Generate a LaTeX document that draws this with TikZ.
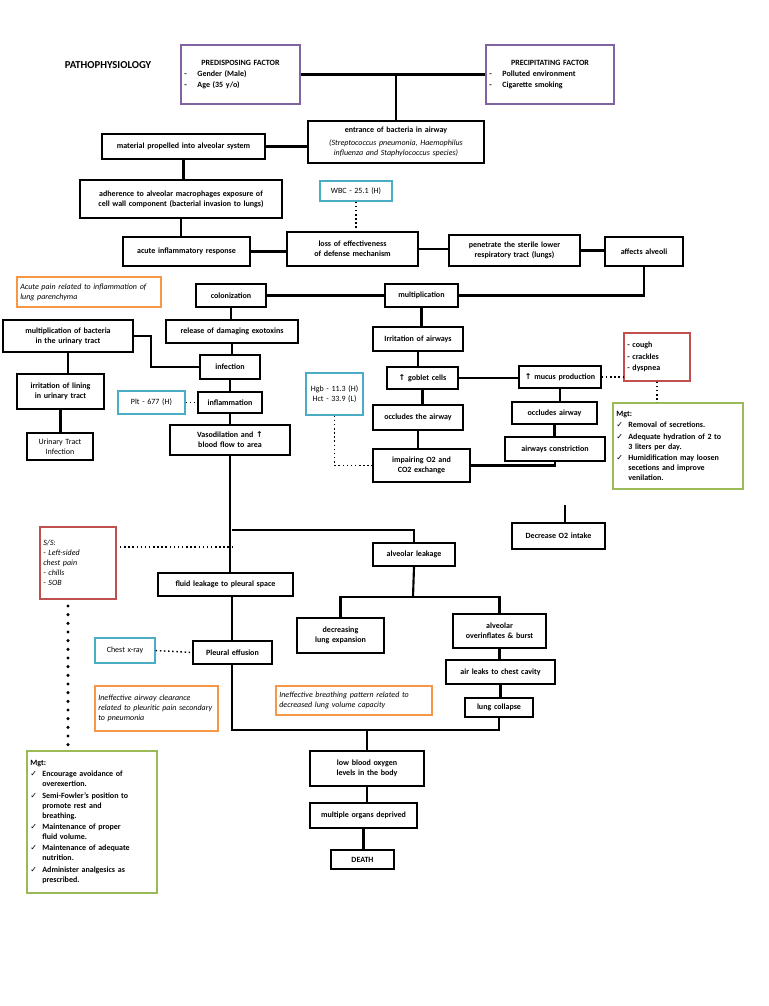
\documentclass[tikz,border=0pt]{standalone}
\usepackage{fontspec}
\setmainfont{Carlito}
\newfontfamily\djvf{DejaVu Sans}
\newcommand\uparr{{\djvf\char"2191}}
\newcommand\chkm{{\djvf\char"2713}}
\definecolor{purp}{RGB}{128,100,162}
\definecolor{blu}{RGB}{75,172,198}
\definecolor{org}{RGB}{247,150,70}
\definecolor{rd}{RGB}{192,80,77}
\definecolor{grn}{RGB}{155,187,89}
\newcommand\mybox[7][]{%
  \node[bx,#1,minimum width={(#5-#3)*0.75pt},minimum height={(#6-#4)*0.75pt},text width={(#5-#3)*0.75pt-5pt}] (#2) at ({(#3+#5)/2},{(#4+#6)/2}) {#7};}
\begin{document}
\hyphenpenalty=10000 \exhyphenpenalty=10000
\begin{tikzpicture}[x=0.75pt,y=-0.75pt,
  bx/.style={draw,line width=1.3pt,align=center,inner sep=1pt,font=\fontsize{6}{7.5}\selectfont\bfseries},
  pu/.style={draw=purp,line width=1pt,align=left,anchor=center},
  bl/.style={draw=blu,line width=1pt,font=\fontsize{6}{7.5}\selectfont},
  og/.style={draw=org,line width=1pt,align=left,font=\fontsize{6}{7.5}\selectfont\itshape},
  rb/.style={draw=rd,line width=1pt},
  gb/.style={draw=grn,line width=1pt,align=left},
  ln/.style={line width=1.6pt},
  dt/.style={line width=1.1pt,dotted},
  bigdot/.style={line width=2.6pt,line cap=round,dash pattern=on 0pt off 6.5pt}]
\useasboundingbox (0,0) rectangle (768,1006);
\node[font=\fontsize{8}{9}\selectfont\bfseries] (title) at (108,65) {PATHOPHYSIOLOGY};
\mybox[pu]{pred}{181}{45}{300}{104}{\makebox[\linewidth][c]{PREDISPOSING FACTOR}\\[1pt] -\quad\ Gender (Male)\\[1pt] -\quad\ Age (35 y/o)\\[14pt]}
\mybox[pu]{prec}{486}{45}{614}{104}{\makebox[\linewidth][c]{PRECIPITATING FACTOR}\\[1pt] -\quad\ Polluted environment\\[1pt] -\quad\ Cigarette smoking\\[14pt]}
\mybox{entr}{308}{121}{484}{163}{entrance of bacteria in airway\\[2pt]{\mdseries\itshape (Streptococcus pneumonia, Haemophilus influenza and Staphylococcus species)}}
\mybox{mat}{102}{134}{265}{159}{material propelled into alveolar system}
\mybox{adh}{80}{180}{282}{218}{adherence to alveolar macrophages exposure of cell wall component (bacterial invasion to lungs)}
\mybox{acu}{123}{237}{250}{266}{acute inflammatory response}
\mybox{loss}{287}{232}{418}{266}{loss of effectiveness of defense mechanism}
\mybox[bl]{wbc}{320}{181}{392}{201}{WBC - 25.1 (H)}
\mybox{pen}{449}{235}{580}{266}{penetrate the sterile lower respiratory tract (lungs)}
\mybox{aff}{605}{237}{683}{266}{affects alveoli}
\mybox[og]{ap}{17}{277}{161}{307}{Acute pain related to inflammation of lung parenchyma}
\mybox{col}{196}{284}{266}{307}{colonization}
\mybox{mult}{385}{284}{458}{307}{multiplication}
\mybox{rel}{166}{320}{298}{343}{release of damaging exotoxins}
\mybox{inf}{200}{355}{260}{379}{infection}
\mybox{mb}{3}{320}{133}{352}{multiplication of bacteria in the urinary tract}
\mybox{irr}{17}{374}{104}{409}{irritation of lining in urinary tract}
\mybox[font=\fontsize{6}{7.5}\selectfont]{uti}{27}{433}{93}{460}{Urinary Tract Infection}
\mybox{infl}{198}{392}{262}{413}{inflammation}
\mybox[bl]{plt}{118}{391}{185}{414}{Plt - 677 (H)}
\mybox{vaso}{170}{425}{290}{455}{Vasodilation and \uparr\ blood flow to area}
\mybox{irw}{373}{327}{463}{351}{Irritation of airways}
\mybox{gob}{387}{367}{458}{389}{\uparr\ goblet cells}
\mybox{muc}{519}{366}{601}{388}{\uparr\ mucus production}
\mybox[rb,align=left]{cough}{624}{333}{690}{381}{- cough\\[1pt]- crackles\\[1pt]- dyspnea\\[6pt]}
\mybox[gb]{mgt1}{613}{403}{743}{489}{Mgt:\\[1pt]
\chkm\ \ Removal of secretions.\\[1pt]
\chkm\ \ Adequate hydration of 2 to\\ \hspace*{9pt}3 liters per day.\\[1pt]
\chkm\ \ Humidification may loosen\\ \hspace*{9pt}secetions and improve\\ \hspace*{9pt}venilation.}
\mybox{occ}{373}{405}{463}{430}{occludes the airway}
\mybox{imp}{373}{449}{470}{482}{impairing O2 and CO2 exchange}
\mybox[bl]{hgb}{306}{373}{363}{415}{Hgb - 11.3 (H)\\Hct - 33.9 (L)\\[8pt]}
\mybox[line width=0.8pt]{oca}{512}{402}{597}{424}{occludes airway}
\mybox{con}{505}{437}{605}{461}{airways constriction}
\mybox{dec2}{512}{523}{605}{549}{Decrease O2 intake}
\mybox[og,rb]{ss}{40}{527}{116}{599}{S/S:\\- Left-sided\\chest pain\\- chills\\- SOB}
\mybox{alv}{373}{543}{455}{566}{alveolar leakage}
\mybox{fl}{158}{573}{293}{596}{fluid leakage to pleural space}
\mybox{dec}{297}{618}{384}{653}{decreasing lung expansion}
\mybox{ovr}{453}{614}{546}{648}{alveolar overinflates \& burst}
\mybox{air}{446}{660}{555}{684}{air leaks to chest cavity}
\mybox{lc}{465}{698}{533}{717}{lung collapse}
\mybox[bl]{cx}{95}{638}{155}{663}{Chest x-ray}
\mybox{pe}{193}{641}{272}{664}{Pleural effusion}
\mybox[og]{iac}{95}{686}{218}{731}{Ineffective airway clearance related to pleuritic pain secondary to pneumonia}
\mybox[og]{ibp}{276}{686}{432}{715}{Ineffective breathing pattern related to decreased lung volume capacity}
\mybox{low}{310}{751}{424}{786}{low blood oxygen levels in the body}
\mybox{mo}{310}{803}{417}{828}{multiple organs deprived}
\mybox{death}{331}{850}{394}{869}{DEATH}
\mybox[gb]{mgtb}{27}{751}{157}{893}{Mgt:\\[1pt]
\chkm\ \ Encourage avoidance of\\ \hspace*{9pt}overexertion.\\[1pt]
\chkm\ \ Semi-Fowler's position to\\ \hspace*{9pt}promote rest and\\ \hspace*{9pt}breathing.\\[1pt]
\chkm\ \ Maintenance of proper\\ \hspace*{9pt}fluid volume.\\[1pt]
\chkm\ \ Maintenance of adequate\\ \hspace*{9pt}nutrition.\\[1pt]
\chkm\ \ Administer analgesics as\\ \hspace*{9pt}prescribed.}
% coordinates
\coordinate (j1) at (232,530);
\coordinate (j2) at (232,730);
\coordinate (j3) at (413,597);
\coordinate (d0) at (565,505);
\coordinate (sd) at (68,606);
\coordinate (sl) at (120,547);
% connectors
\draw[ln] (pred.east) -- (prec.west);
\draw[ln] (entr.north) -- (entr.north |- pred.east);
\draw[ln] (mat.east) -- (mat.east -| entr.west);
\draw[ln] (mat.south) -- (mat.south |- adh.north);
\draw[ln] (adh.south) -- (adh.south |- acu.north);
\draw[ln] (acu.east) -- (acu.east -| loss.west);
\draw[ln] (loss.east) -- (loss.east -| pen.west);
\draw[ln] (pen.east) -- (pen.east -| aff.west);
\draw[dt] (wbc.south) -- (wbc.south |- loss.north);
\draw[ln] (aff.south) |- (mult.east);
\draw[ln] (col.east) -- (mult.west);
\draw[ln] (col.south) -- (col.south |- rel.north);
\draw[ln] (rel.south) -- (rel.south |- inf.north);
\draw[ln] (inf.south) -- (inf.south |- infl.north);
\draw[ln] (infl.south) -- (infl.south |- vaso.north);
\draw[ln] (mb.east) -- ++(17,0) |- (inf.west);
\draw[ln] (mb.south) -- (mb.south |- irr.north);
\draw[ln] (irr.south) -- (irr.south |- uti.north);
\draw[dt] (plt.east) -- (infl.west);
\draw[ln] (vaso.south) -- (vaso.south |- fl.north);
\draw[ln] (j1) -| (alv.north);
\draw[ln] (fl.south -| j1) -- (pe.north -| j1);
\draw[ln] (pe.south -| j2) -- (j2) -| (lc.south);
\draw[ln] (low.north) -- (low.north |- j2);
\draw[ln] (alv.south) -- (j3);
\draw[ln] (dec.north) |- (ovr.north |- j3) -- (ovr.north);
\draw[ln] (ovr.south) -- (ovr.south |- air.north);
\draw[ln] (air.south) -- (air.south |- lc.north);
\draw[ln] (low.south) -- (low.south |- mo.north);
\draw[ln] (mo.south) -- (mo.south |- death.north);
\draw[ln] (mult.south) -- (mult.south |- irw.north);
\draw[ln] (irw.south) -- (irw.south |- gob.north);
\draw[ln] (gob.south) -- (gob.south |- occ.north);
\draw[ln] (occ.south) -- (occ.south |- imp.north);
\draw[ln] (gob.east) -- (gob.east -| muc.west);
\draw[dt] (muc.east) -- (muc.east -| cough.west);
\draw[dt] (cough.south) -- (cough.south |- mgt1.north);
\draw[ln] (muc.south) -- (muc.south |- oca.north);
\draw[ln] (oca.south) -- (oca.south |- con.north);
\draw[ln] (con.south) |- (imp.east);
\draw[dt] (hgb.south) |- (imp.west);
\draw[ln] (d0) -- (d0 |- dec2.north);
\draw[dt] (sl) -- (sl -| j1);
\draw[bigdot] (sd) -- (sd |- mgtb.north);
\draw[dt] (cx.east) -- (pe.west);
\end{tikzpicture}
\end{document}
